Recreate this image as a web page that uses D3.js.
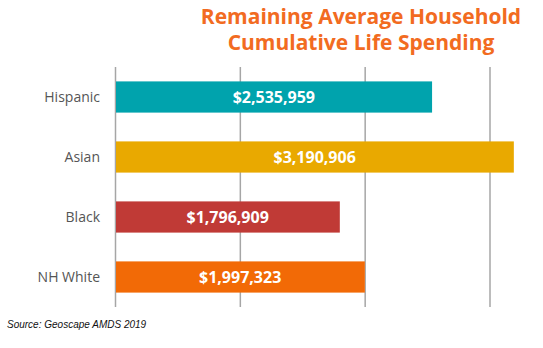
<!DOCTYPE html>
<html><head><meta charset="utf-8">
<script src="https://cdn.jsdelivr.net/npm/d3@7"></script>
<style>body{margin:0;background:#fff}svg{display:block}</style>
</head><body>
<script>
const categories = ["Hispanic", "Asian", "Black", "NH White"];
const values = [2535959, 3190906, 1796909, 1997323];
const colors = ["#00a3ad", "#e9a900", "#c03a36", "#f26a06"];
const gridTicks = [0, 1000000, 2000000, 3000000];
const titleLines = ["Remaining Average Household", "Cumulative Life Spending"];
const source = "Source: Geoscape AMDS 2019";

const W = 543, H = 348;
const svg = d3.select("body").append("svg").attr("width", W).attr("height", H);

const x = d3.scaleLinear().domain([0, 3000000]).range([115.5, 490]);
const y = d3.scaleBand().domain(categories).range([67, 307]).paddingInner(0.48).paddingOuter(0.24);

// grid lines
svg.append("g").selectAll("line").data(gridTicks).join("line")
  .attr("x1", d => x(d)).attr("x2", d => x(d))
  .attr("y1", 67).attr("y2", 307)
  .attr("stroke", "#a6a6a6").attr("stroke-width", 1.5);

// bars
svg.append("g").selectAll("rect").data(categories).join("rect")
  .attr("x", x(0) + 0.5)
  .attr("y", d => y(d))
  .attr("width", (d, i) => x(values[i]) - x(0) - 0.5)
  .attr("height", y.bandwidth())
  .attr("fill", (d, i) => colors[i]);

// value labels
const fmt = d3.format("$,");
svg.append("g").selectAll("text").data(categories).join("text")
  .attr("x", (d, i) => (x(0) + x(values[i])) / 2)
  .attr("y", d => y(d) + y.bandwidth() / 2)
  .attr("dy", "0.36em")
  .attr("text-anchor", "middle")
  .attr("fill", "#fff")
  .attr("font-family", "'Open Sans', sans-serif")
  .attr("font-weight", 700)
  .attr("font-size", 16)
  .text((d, i) => fmt(values[i]));

// category labels
svg.append("g").selectAll("text").data(categories).join("text")
  .attr("x", 100)
  .attr("y", d => y(d) + y.bandwidth() / 2)
  .attr("dy", "0.36em")
  .attr("text-anchor", "end")
  .attr("fill", "#555")
  .attr("font-family", "'Open Sans', sans-serif")
  .attr("font-size", 14)
  .text(d => d);

// title
svg.append("g").selectAll("text").data(titleLines).join("text")
  .attr("x", 361)
  .attr("y", (d, i) => 24 + i * 26)
  .attr("text-anchor", "middle")
  .attr("fill", "#f26b21")
  .attr("font-family", "'Open Sans', sans-serif")
  .attr("font-weight", 700)
  .attr("font-size", 21)
  .text(d => d);

// source
svg.append("text")
  .attr("x", 7).attr("y", 328)
  .attr("fill", "#111")
  .attr("font-family", "'Liberation Sans', Arial, sans-serif")
  .attr("font-style", "italic")
  .attr("font-size", 10)
  .text(source);
</script>
</body></html>
